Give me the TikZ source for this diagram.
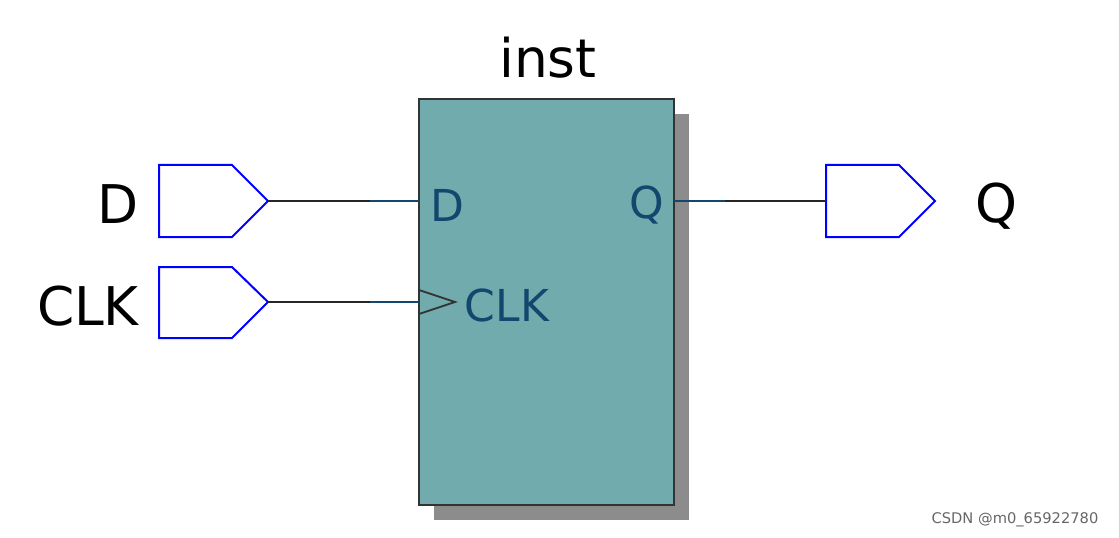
\documentclass[tikz,border=0pt]{standalone}
\usepackage{fontspec}
\setmainfont{DejaVu Sans}
\definecolor{pinc}{RGB}{20,70,110}
\begin{document}
\begin{tikzpicture}[x=0.75pt,y=-0.75pt,
  pin/.style={draw=blue,line width=1.5pt,fill=white},
  wire/.style={draw=black!85,line width=1.4pt},
  bwire/.style={draw=pinc,line width=1.4pt},
  outer/.style={font=\fontsize{40}{40}\selectfont,text=black},
  inner/.style={font=\fontsize{33}{33}\selectfont,text=pinc}]
\useasboundingbox (0,0) rectangle (1119,538);
\fill[black!45] (434,114) rectangle (689,520);
\draw[fill={rgb,255:red,114;green,171;blue,173},draw=black!80,line width=1.5pt] (419,99) rectangle (674,505);
\node[font=\fontsize{40}{40}\selectfont] (inst) at (548,58) {inst};
% pins
\draw[pin] (159,165) -- (232,165) -- (268,201) -- (232,237) -- (159,237) -- cycle;
\draw[pin] (159,267) -- (232,267) -- (268,302) -- (232,338) -- (159,338) -- cycle;
\draw[pin] (826,165) -- (899,165) -- (935,201) -- (899,237) -- (826,237) -- cycle;
\coordinate (dp) at (268,201); \coordinate (cp) at (268,302); \coordinate (qp) at (826,201);
\coordinate (di) at (419,201); \coordinate (ci) at (419,302); \coordinate (qo) at (674,201);
\coordinate (dm) at (370,201); \coordinate (cm) at (370,302); \coordinate (qm) at (725,201);
\draw[wire] (dp) -- (dm); \draw[bwire] (dm) -- (di);
\draw[wire] (cp) -- (cm); \draw[bwire] (cm) -- (ci);
\draw[bwire] (qo) -- (qm); \draw[wire] (qm) -- (qp);
\draw[draw=black!80,line width=1.4pt] (419,290) -- (455,302) -- (419,314);
\node[outer] (D) at (118,204) {D};
\node[outer] (CLK) at (88,306) {CLK};
\node[outer] (Q) at (996,206) {Q};
\node[inner] (Di) at (447,205) {D};
\node[inner] (Qi) at (647,205) {Q};
\node[inner] (Ci) at (507,305) {CLK};
\node[font=\fontsize{11}{11}\selectfont,text=black!60] (wm) at (1015,520) {CSDN @m0\_65922780};
\end{tikzpicture}
\end{document}
